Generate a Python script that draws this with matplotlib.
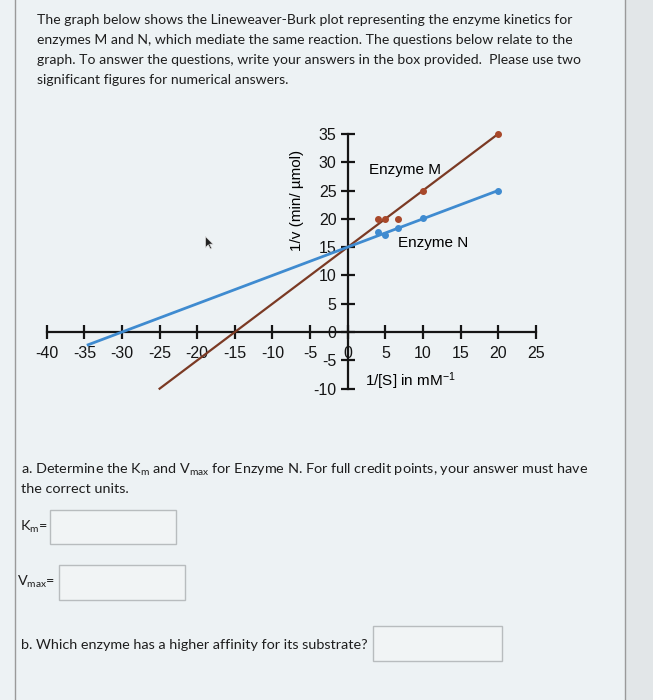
import matplotlib
matplotlib.use("Agg")
import matplotlib.pyplot as plt
from matplotlib.path import Path
import numpy as np

plt.rcParams['font.family'] = ['Liberation Sans', 'DejaVu Sans']
plt.rcParams['mathtext.fontset'] = 'custom'
plt.rcParams['mathtext.rm'] = 'Lato'
plt.rcParams['mathtext.it'] = 'Lato:italic'

# data
m_line_x = [-25, 20]
m_line_y = [-10, 35]
n_line_x = [-34.5, 20]
n_line_y = [-2.25, 25]
m_pts_x = [4, 5, 6.7, 10, 20]
m_pts_y = [20, 20, 20, 25, 35]
n_pts_x = [4, 5, 6.7, 10, 20]
n_pts_y = [17.6, 17.1, 18.3, 20.2, 25]
x_ticks = list(range(-40, 30, 5))
y_ticks = list(range(-10, 40, 5))

intro = ["The graph below shows the Lineweaver-Burk plot representing the enzyme kinetics for",
         "enzymes M and N, which mediate the same reaction. The questions below relate to the",
         "graph. To answer the questions, write your answers in the box provided.  Please use two",
         "significant figures for numerical answers."]

bg = '#edf2f4'
fig = plt.figure(figsize=(6.53, 7.0), dpi=100, facecolor=bg)

# panel borders
fig.add_artist(plt.Line2D([15/653, 15/653], [0, 1], color='#9a9a9a', lw=1))
fig.add_artist(plt.Line2D([625/653, 625/653], [0, 1], color='#9a9a9a', lw=1))
fig.add_artist(plt.Rectangle((626/653, 0), 27/653, 1, color='#e2e6e8', zorder=0))

for i, line in enumerate(intro):
    fig.text(37/653, 1 - (20 + i*20)/700, line, family='Lato', fontsize=10.1,
             color='#1e1e1e', va='center', ha='left')

# chart
ax = fig.add_axes([31.7/653, 0.4286, 0.795, 0.3963])
ax.set_facecolor('none')
ax.set_xlim(-42, 27)
ax.set_ylim(-12, 37)
for s in ['top', 'right']:
    ax.spines[s].set_visible(False)
ax.spines['left'].set_position(('data', 0))
ax.spines['bottom'].set_position(('data', 0))
ax.spines['bottom'].set_bounds(-40, 25)
ax.spines['left'].set_bounds(-10, 35)
for s in ['left', 'bottom']:
    ax.spines[s].set_linewidth(1.6)
    ax.spines[s].set_color('#151515')
ax.set_xticks(x_ticks)
ax.set_yticks(y_ticks)
ax.set_xticklabels([str(v) for v in x_ticks])
ax.set_yticklabels([str(v) for v in y_ticks])
ax.tick_params(axis='both', direction='inout', length=10, width=1.6, colors='#151515',
               labelsize=11.5)
ax.tick_params(axis='x', pad=5)
ax.tick_params(axis='y', pad=3)

ax.plot(m_line_x, m_line_y, color='#7b3a24', lw=1.6, zorder=3)
ax.plot(n_line_x, n_line_y, color='#3f8bd0', lw=2.0, zorder=3)
ax.plot(m_pts_x, m_pts_y, 'o', color='#a8482a', ms=4, zorder=4)
ax.plot(n_pts_x, n_pts_y, 'o', color='#3f8bd0', ms=4, zorder=4)

ax.text(-6.8, 23.3, '1/v (min/ µmol)', rotation=90, fontsize=11, ha='center', va='center')
ax.text(7.6, 28.6, 'Enzyme M', fontsize=11, ha='center', va='center')
ax.text(11.4, 15.7, 'Enzyme N', fontsize=11, ha='center', va='center')
ax.text(8.4, -8.7, '1/[S] in mM$^{\\mathregular{-1}}$', fontsize=11, ha='center', va='center')

# mouse pointer seen in the screenshot
cursor = Path([(0, 0), (0, -16), (4, -12), (7, -18), (9, -17), (6, -11), (11, -11), (0, 0)])
ax.plot([-19], [17], marker=cursor, color='#222222', ms=18, mec='#dddddd', mew=0.5)

# questions
qfs = 10.4
fig.text(21/653, 1 - 470/700, r'a. Determine the K$_{\mathrm{m}}$ and V$_{\mathrm{max}}$ for Enzyme N. For full credit points, your answer must have',
         family='Lato', fontsize=qfs, color='#1e1e1e', va='center')
fig.text(21/653, 1 - 489/700, 'the correct units.', family='Lato', fontsize=qfs, color='#1e1e1e', va='center')
fig.text(20/653, 1 - 527/700, r'K$_{\mathrm{m}}$=', family='Lato', fontsize=qfs, color='#1e1e1e', va='center')
fig.text(17/653, 1 - 582/700, r'V$_{\mathrm{max}}$=', family='Lato', fontsize=qfs, color='#1e1e1e', va='center')
fig.text(21/653, 1 - 645/700, 'b. Which enzyme has a higher affinity for its substrate?', family='Lato',
         fontsize=qfs, color='#1e1e1e', va='center')

boxes = [(50, 510, 126, 34), (59, 565, 126, 35), (373, 626, 129, 35)]
for bx, by, bw, bh in boxes:
    fig.add_artist(plt.Rectangle((bx/653, 1 - (by + bh)/700), bw/653, bh/700,
                                 facecolor='#f1f4f5', edgecolor='#b8bcbe', lw=1))

fig.savefig('out.png', dpi=100, facecolor=bg)
